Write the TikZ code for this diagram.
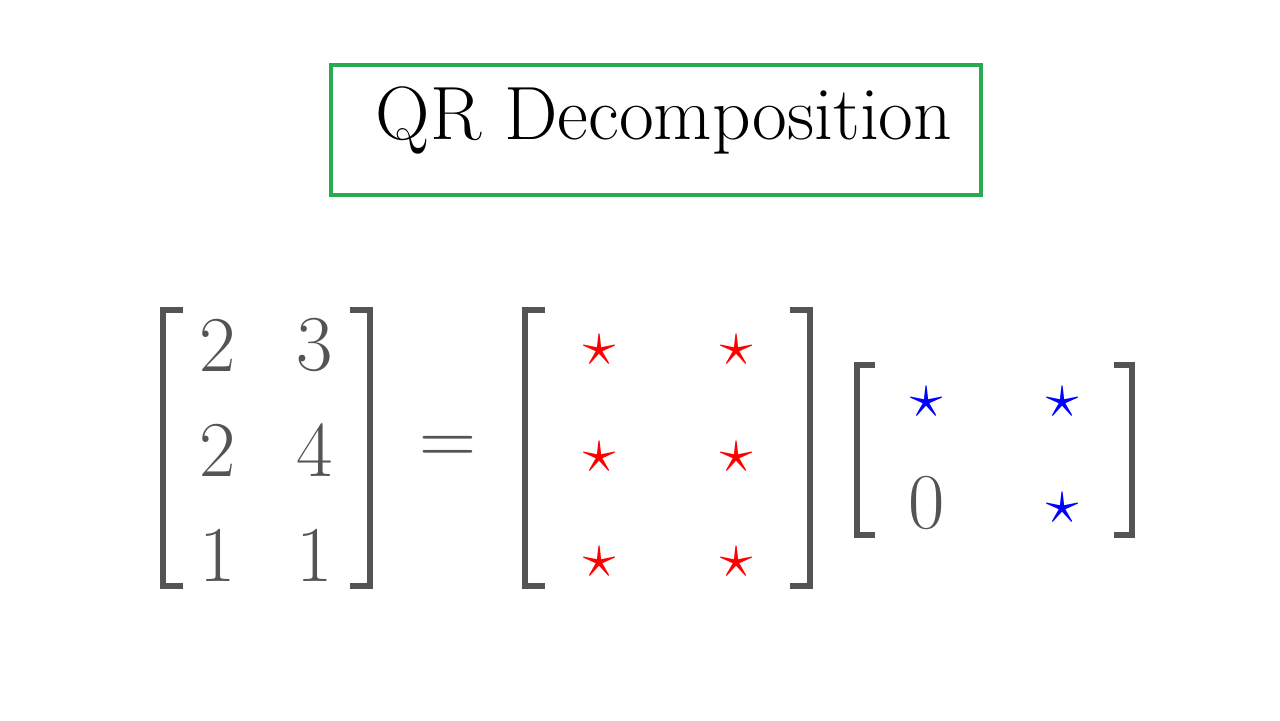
\documentclass[tikz,border=0pt]{standalone}
\tikzset{
  brk/.style={line width=3pt, draw=black!67},
  ent/.style={text=black!67, font=\fontsize{45}{48}\selectfont},
  qst/.style={text=red, font=\Huge},
  rst/.style={text=blue, font=\Huge}
}
\newcommand{\bigstar}{\scalebox{1.5}{$\star$}}
\begin{document}
\begin{tikzpicture}[x=0.02cm,y=-0.02cm]
\useasboundingbox (0,0) rectangle (1280,720);

% Title box
\node[draw={rgb,255:red,40;green,170;blue,80}, line width=2.5pt, inner sep=0pt,
      minimum width=13cm, minimum height=2.6cm] (title) at (656,130) {};
\node[font=\fontsize{43}{47}\selectfont] (titletext) at (664,120) {QR Decomposition};

% Matrix A
\draw[brk] (183,310) -- (163,310) -- (163,586) -- (183,586);
\draw[brk] (350,310) -- (370,310) -- (370,586) -- (350,586);
\node[ent] (a11) at (218,345) {2};
\node[ent] (a12) at (315,345) {3};
\node[ent] (a21) at (218,450) {2};
\node[ent] (a22) at (315,450) {4};
\node[ent] (a31) at (218,555) {1};
\node[ent] (a32) at (315,555) {1};

% Equals sign
\node[ent] (eq) at (448,450) {=};

% Matrix Q
\draw[brk] (545,310) -- (525,310) -- (525,586) -- (545,586);
\draw[brk] (790,310) -- (810,310) -- (810,586) -- (790,586);
\foreach \r/\y in {1/350,2/457,3/562}{
  \node[qst] (q\r1) at (600,\y) {\bigstar};
  \node[qst] (q\r2) at (737,\y) {\bigstar};
}

% Matrix R
\draw[brk] (875,365) -- (857,365) -- (857,535) -- (875,535);
\draw[brk] (1114,365) -- (1132,365) -- (1132,535) -- (1114,535);
\node[rst] (r11) at (927,402) {\bigstar};
\node[rst] (r12) at (1063,402) {\bigstar};
\node[ent] (r21) at (927,503) {0};
\node[rst] (r22) at (1063,508) {\bigstar};
\end{tikzpicture}
\end{document}
